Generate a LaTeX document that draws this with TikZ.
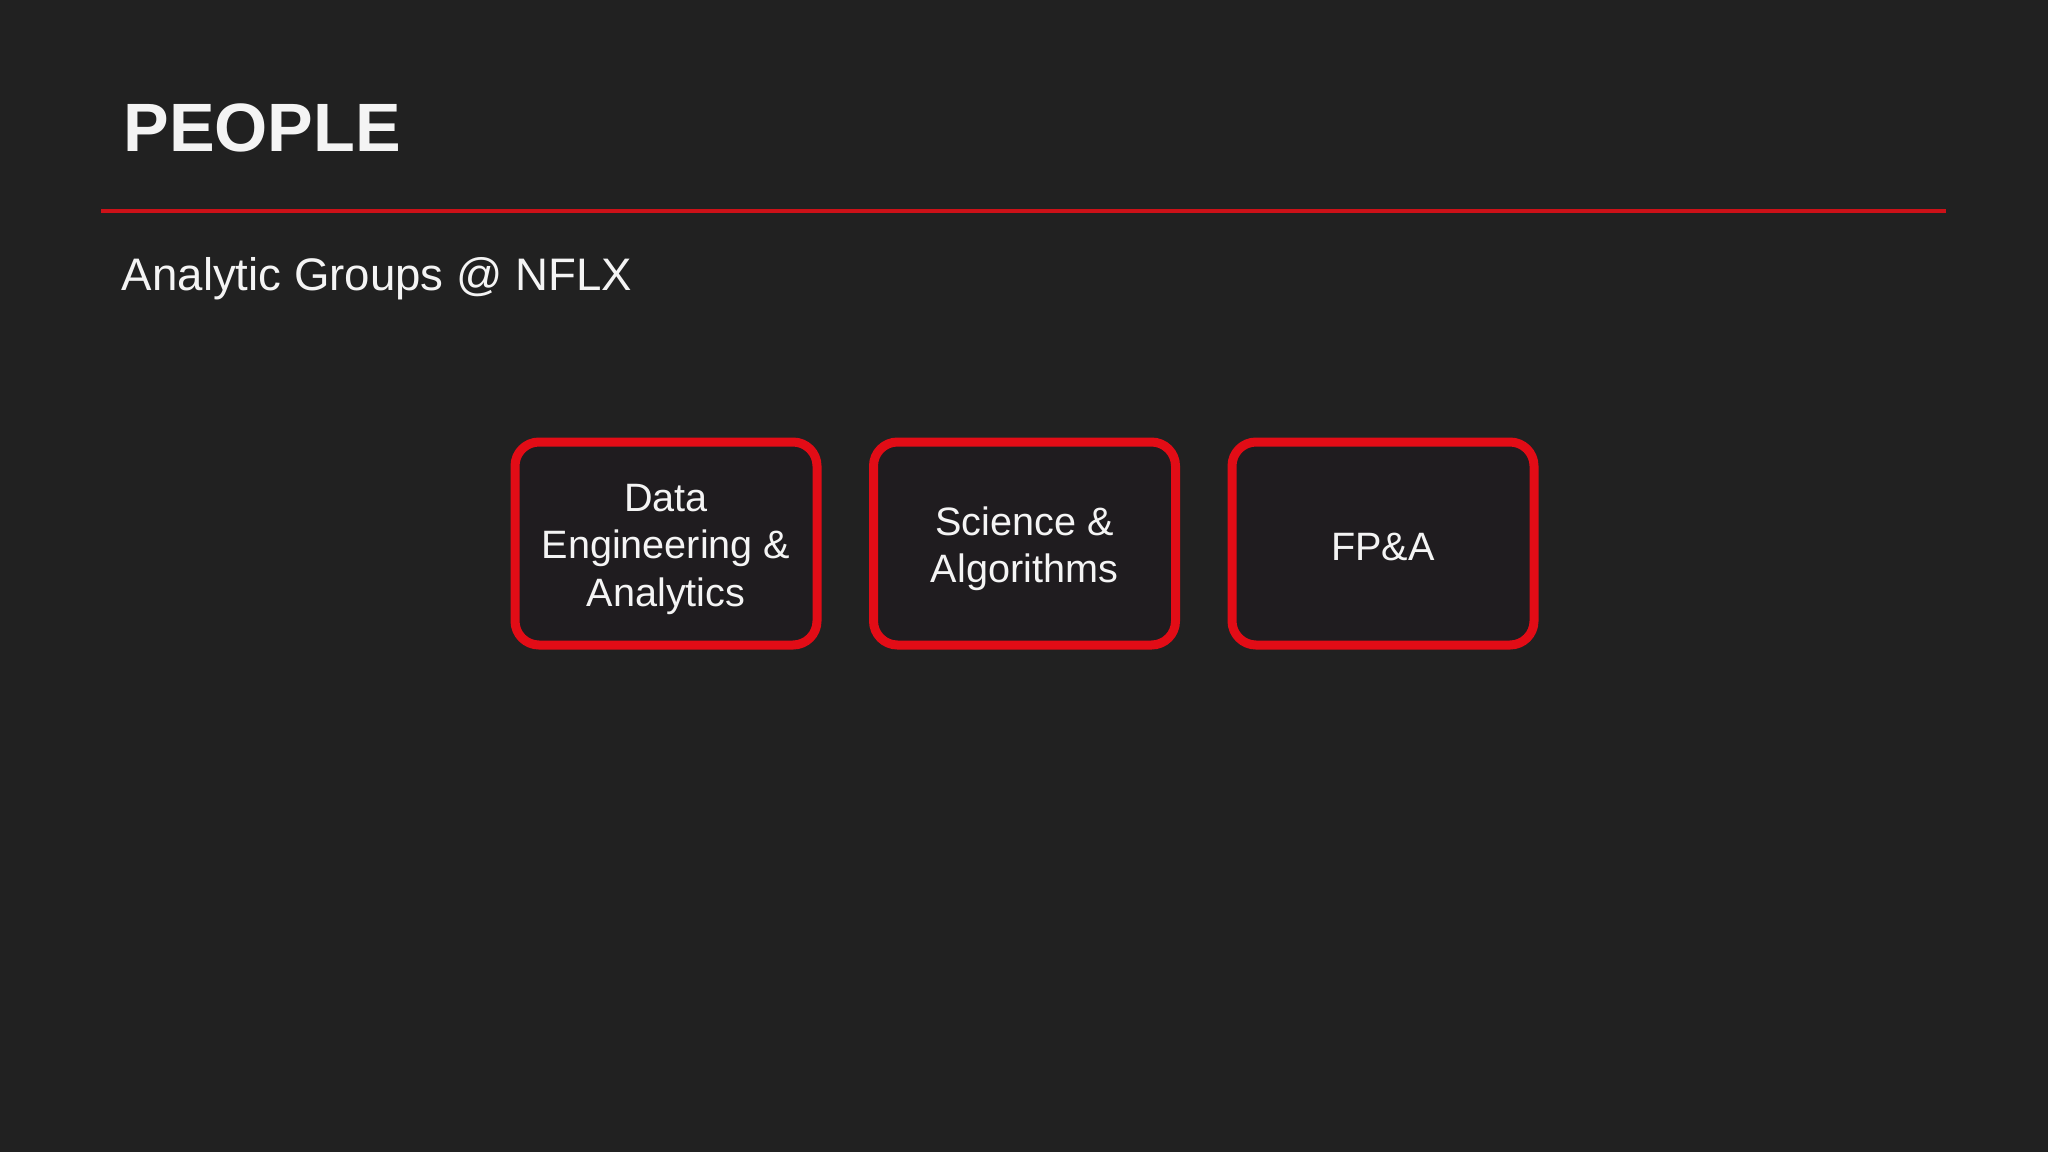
\documentclass[tikz,border=0pt]{standalone}
\usepackage{fontspec}
\setmainfont{Liberation Sans}
\definecolor{bg}{HTML}{212121}
\definecolor{boxfill}{HTML}{1F1C1F}
\definecolor{nred}{HTML}{E20C16}
\definecolor{lred}{HTML}{CC1118}
\definecolor{txt}{HTML}{F4F4F4}
\newcommand{\topstrut}[1]{\rule{0pt}{#1}}
\begin{document}
\begin{tikzpicture}[x=0.5pt,y=-0.5pt,
  group/.style={draw=nred, line width=4.5pt, fill=boxfill, rounded corners=12pt,
    minimum width=151pt, minimum height=101.5pt, inner sep=0pt,
    text=txt, align=center, font=\fontsize{19.8pt}{23.7pt}\selectfont}]
\fill[bg] (0,0) rectangle (2048,1152);
\useasboundingbox (0,0) rectangle (2048,1152);
\node[anchor=base west, inner sep=0pt, text=txt, font=\fontsize{34.2pt}{40pt}\bfseries\selectfont] (title) at (123,151.7) {PEOPLE};
\coordinate (l1) at (101,211);
\coordinate (l2) at (1946,211);
\draw[lred, line width=2.3pt] (l1) -- (l2);
\node[anchor=base west, inner sep=0pt, text=txt, font=\fontsize{22.8pt}{28pt}\selectfont] (sub) at (121.5,290) {Analytic Groups @ NFLX};
\node[group] (dea) at (666,543.5) {\topstrut{19.2pt}Data\\Engineering \&\\Analytics};
\node[group] (sa) at (1024.5,543.5) {\topstrut{19.7pt}Science \&\\Algorithms};
\node[group] (fpa) at (1383,543.5) {\topstrut{17.1pt}FP\&A};
\end{tikzpicture}
\end{document}
